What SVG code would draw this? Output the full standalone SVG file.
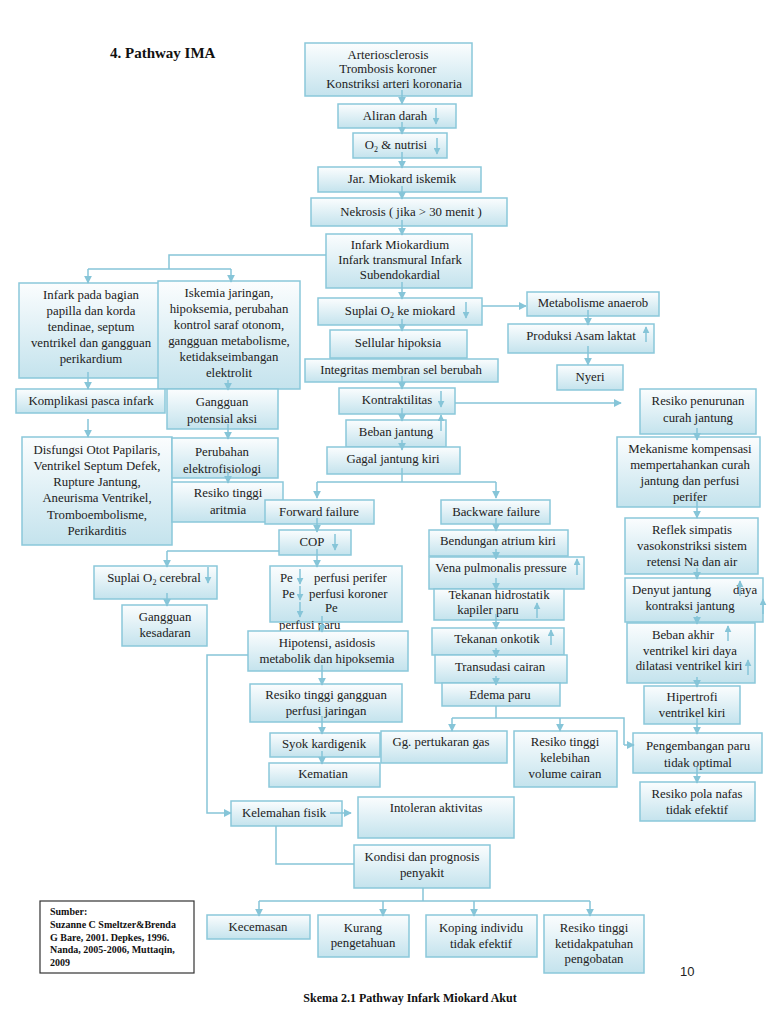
<svg xmlns="http://www.w3.org/2000/svg" width="768" height="1024" viewBox="0 0 768 1024">
<defs>
<linearGradient id="bg" x1="0" y1="0" x2="0" y2="1">
<stop offset="0" stop-color="#fbfdfe"/>
<stop offset="1" stop-color="#c4e3ed"/>
</linearGradient>
<marker id="a" viewBox="0 0 10 10" refX="9" refY="5" markerUnits="userSpaceOnUse" markerWidth="8" markerHeight="8" orient="auto">
<path d="M0,0 L10,5 L0,10 z" fill="#86c5d8"/>
</marker>
<marker id="s" viewBox="0 0 10 10" refX="9" refY="5" markerUnits="userSpaceOnUse" markerWidth="7" markerHeight="7" orient="auto">
<path d="M0,0 L10,5 L0,10 z" fill="#86c5d8"/>
</marker>
<style>
.b{fill:url(#bg);stroke:#8ac8da;stroke-width:1.5}
.t{font-family:"Liberation Serif","Times New Roman",Times,serif;font-size:12.8px;fill:#222;text-anchor:middle}
.l{font-family:"Liberation Serif","Times New Roman",Times,serif;font-size:12.8px;fill:#222}
.c{fill:none;stroke:#86c5d8;stroke-width:1.5}
.ca{fill:none;stroke:#86c5d8;stroke-width:1.5;marker-end:url(#a)}
.g{fill:none;stroke:#86c5d8;stroke-width:1.5;marker-end:url(#s)}
.sub{font-size:8px}
.h{font-family:"Liberation Serif","Times New Roman",Times,serif;font-weight:bold;fill:#111}
</style>
</defs>
<rect width="768" height="1024" fill="#fff"/>
<text class="h" x="110" y="58" font-size="15">4. Pathway IMA</text>

<g id="n1"><rect class="b" x="305" y="43" width="167" height="53"/><text class="t" x="388" y="59">Arteriosclerosis</text><text class="t" x="388" y="73">Trombosis koroner</text><text class="t" x="394" y="88">Konstriksi arteri koronaria</text></g>
<g id="n2"><rect class="b" x="338" y="104" width="118" height="24"/><text class="t" x="395" y="120">Aliran darah</text><path class="g" d="M436 108 V124"/></g>
<g id="n3"><rect class="b" x="353" y="133" width="94" height="25"/><text class="t" x="396" y="149">O<tspan class="sub" dy="3">2</tspan><tspan dy="-3"> &amp; nutrisi</tspan></text><path class="g" d="M437 138 V154"/></g>
<g id="n4"><rect class="b" x="318" y="167" width="163" height="25"/><text class="t" x="402" y="183">Jar. Miokard iskemik</text></g>
<g id="n5"><rect class="b" x="311" y="198" width="196" height="28"/><text class="t" x="411" y="216">Nekrosis ( jika &gt; 30 menit )</text></g>
<g id="n6"><rect class="b" x="326" y="234" width="146" height="54"/><text class="t" x="400" y="249">Infark Miokardium</text><text class="t" x="400" y="264">Infark transmural Infark</text><text class="t" x="400" y="279">Subendokardial</text></g>
<g id="n7"><rect class="b" x="19" y="283" width="143" height="95"/><text class="t" x="91" y="299">Infark pada bagian</text><text class="t" x="91" y="315">papilla dan korda</text><text class="t" x="91" y="331">tendinae, septum</text><text class="t" x="91" y="347">ventrikel dan gangguan</text><text class="t" x="91" y="363">perikardium</text></g>
<g id="n8"><rect class="b" x="158" y="281" width="142" height="108"/><text class="t" x="229" y="297">Iskemia jaringan,</text><text class="t" x="229" y="313">hipoksemia, perubahan</text><text class="t" x="229" y="329">kontrol saraf otonom,</text><text class="t" x="229" y="345">gangguan metabolisme,</text><text class="t" x="229" y="361">ketidakseimbangan</text><text class="t" x="229" y="377">elektrolit</text></g>
<g id="n9"><rect class="b" x="16" y="389" width="149" height="24"/><text class="t" x="91" y="405">Komplikasi pasca infark</text></g>
<g id="n10"><rect class="b" x="22" y="437" width="150" height="108"/><text class="t" x="97" y="454">Disfungsi Otot Papilaris,</text><text class="t" x="97" y="470">Ventrikel Septum Defek,</text><text class="t" x="97" y="486">Rupture Jantung,</text><text class="t" x="97" y="502">Aneurisma Ventrikel,</text><text class="t" x="97" y="519">Tromboembolisme,</text><text class="t" x="97" y="535">Perikarditis</text></g>
<g id="n11"><rect class="b" x="167" y="389" width="111" height="40"/><text class="t" x="222" y="406">Gangguan</text><text class="t" x="222" y="423">potensial aksi</text></g>
<g id="n12"><rect class="b" x="172" y="438" width="106" height="40"/><text class="t" x="222" y="456">Perubahan</text><text class="t" x="222" y="473">elektrofisiologi</text></g>
<g id="n13"><rect class="b" x="172" y="482" width="111" height="40"/><text class="t" x="228" y="497">Resiko tinggi</text><text class="t" x="228" y="514">aritmia</text></g>
<g id="n14"><rect class="b" x="318" y="298" width="164" height="27"/><text class="t" x="400" y="315">Suplai O<tspan class="sub" dy="3">2</tspan><tspan dy="-3"> ke miokard</tspan></text><path class="g" d="M466 302 V318"/></g>
<g id="n15"><rect class="b" x="527" y="292" width="132" height="24"/><text class="t" x="593" y="307">Metabolisme anaerob</text></g>
<g id="n16"><rect class="b" x="508" y="324" width="146" height="29"/><text class="t" x="581" y="340">Produksi Asam laktat</text><path class="g" d="M646 342 V327"/></g>
<g id="n17"><rect class="b" x="557" y="365" width="66" height="25"/><text class="t" x="590" y="381">Nyeri</text></g>
<g id="n18"><rect class="b" x="330" y="330" width="137" height="28"/><text class="t" x="398" y="347">Sellular hipoksia</text></g>
<g id="n19"><rect class="b" x="305" y="359" width="193" height="23"/><text class="t" x="401" y="374">Integritas membran sel berubah</text></g>
<g id="n20"><rect class="b" x="339" y="388" width="116" height="26"/><text class="t" x="397" y="404">Kontraktilitas</text><path class="g" d="M441 391 V407"/></g>
<g id="n21"><rect class="b" x="640" y="389" width="116" height="45"/><text class="t" x="698" y="405">Resiko penurunan</text><text class="t" x="698" y="422">curah jantung</text></g>
<g id="n22"><rect class="b" x="617" y="437" width="143" height="70"/><text class="t" x="690" y="453">Mekanisme kompensasi</text><text class="t" x="690" y="469">mempertahankan curah</text><text class="t" x="690" y="485">jantung dan perfusi</text><text class="t" x="690" y="501">perifer</text></g>
<g id="n23"><rect class="b" x="346" y="420" width="100" height="27"/><text class="t" x="396" y="436">Beban jantung</text><path class="g" d="M441 431 V415"/></g>
<g id="n24"><rect class="b" x="327" y="447" width="133" height="27"/><text class="t" x="393" y="463">Gagal jantung kiri</text></g>
<g id="n25"><rect class="b" x="265" y="500" width="109" height="24"/><text class="t" x="319" y="516">Forward failure</text></g>
<g id="n26"><rect class="b" x="441" y="500" width="109" height="24"/><text class="t" x="496" y="516">Backware failure</text></g>
<g id="n27"><rect class="b" x="279" y="530" width="72" height="25"/><text class="t" x="312" y="546">COP</text><path class="g" d="M335 534 V550"/></g>
<g id="n28"><rect class="b" x="94" y="566" width="123" height="33"/><text class="t" x="154" y="582">Suplai O<tspan class="sub" dy="3">2</tspan><tspan dy="-3"> cerebral</tspan></text><path class="g" d="M208 567 V583"/></g>
<g id="n29"><rect class="b" x="122" y="605" width="85" height="41"/><text class="t" x="165" y="621">Gangguan</text><text class="t" x="165" y="637">kesadaran</text></g>
<g id="n30"><rect class="b" x="270" y="566" width="132" height="56"/><text class="l" x="280" y="582">Pe</text><text class="l" x="314" y="582">perfusi perifer</text><path class="g" d="M300 569 V584"/><text class="l" x="282" y="598">Pe</text><text class="l" x="309" y="598">perfusi koroner</text><path class="g" d="M300 586 V600"/><path class="g" d="M300 602 V617"/><text class="l" x="325" y="612">Pe</text><text class="l" x="279" y="629">perfusi paru</text></g>
<g id="n31"><rect class="b" x="248" y="631" width="160" height="40"/><text class="t" x="327" y="647">Hipotensi, asidosis</text><text class="t" x="327" y="663">metabolik dan hipoksemia</text></g>
<g id="n32"><rect class="b" x="250" y="684" width="152" height="38"/><text class="t" x="326" y="699">Resiko tinggi gangguan</text><text class="t" x="326" y="715">perfusi jaringan</text></g>
<g id="n33"><rect class="b" x="270" y="733" width="110" height="24"/><text class="t" x="324" y="748">Syok kardigenik</text></g>
<g id="n34"><rect class="b" x="269" y="763" width="111" height="24"/><text class="t" x="323" y="778">Kematian</text></g>
<g id="n35"><rect class="b" x="381" y="731" width="126" height="32"/><text class="t" x="441" y="746">Gg. pertukaran gas</text></g>
<g id="n36"><rect class="b" x="231" y="801" width="111" height="25"/><text class="t" x="284" y="817">Kelemahan fisik</text></g>
<g id="n37"><rect class="b" x="358" y="797" width="156" height="41"/><text class="t" x="436" y="812">Intoleran aktivitas</text></g>
<g id="n38"><rect class="b" x="354" y="845" width="136" height="43"/><text class="t" x="422" y="861">Kondisi dan prognosis</text><text class="t" x="422" y="877">penyakit</text></g>
<g id="n39"><rect class="b" x="207" y="915" width="103" height="24"/><text class="t" x="258" y="931">Kecemasan</text></g>
<g id="n40"><rect class="b" x="318" y="915" width="91" height="42"/><text class="t" x="363" y="932">Kurang</text><text class="t" x="363" y="947">pengetahuan</text></g>
<g id="n41"><rect class="b" x="426" y="915" width="111" height="42"/><text class="t" x="481" y="932">Koping individu</text><text class="t" x="481" y="948">tidak efektif</text></g>
<g id="n42"><rect class="b" x="544" y="915" width="100" height="58"/><text class="t" x="594" y="932">Resiko tinggi</text><text class="t" x="594" y="948">ketidakpatuhan</text><text class="t" x="594" y="963">pengobatan</text></g>
<g id="n43"><rect class="b" x="625" y="518" width="133" height="56"/><text class="t" x="692" y="534">Reflek simpatis</text><text class="t" x="692" y="550">vasokonstriksi sistem</text><text class="t" x="692" y="566">retensi Na dan air</text></g>
<g id="n44"><rect class="b" x="625" y="578" width="138" height="44"/><text class="l" x="632" y="594">Denyut jantung</text><text class="l" x="733" y="594">daya</text><path class="g" d="M740 596 V581"/><text class="t" x="690" y="610">kontraksi jantung</text><path class="g" d="M763 614 V599"/></g>
<g id="n45"><rect class="b" x="627" y="623" width="128" height="60"/><text class="t" x="683" y="639">Beban akhir</text><path class="g" d="M728 641 V626"/><text class="t" x="690" y="655">ventrikel kiri daya</text><text class="t" x="689" y="670">dilatasi ventrikel kiri</text><path class="g" d="M748 675 V660"/></g>
<g id="n46"><rect class="b" x="644" y="686" width="96" height="38"/><text class="t" x="692" y="701">Hipertrofi</text><text class="t" x="692" y="717">ventrikel kiri</text></g>
<g id="n47"><rect class="b" x="633" y="733" width="129" height="40"/><text class="t" x="698" y="750">Pengembangan paru</text><text class="t" x="698" y="767">tidak optimal</text></g>
<g id="n48"><rect class="b" x="640" y="782" width="115" height="39"/><text class="t" x="697" y="798">Resiko pola nafas</text><text class="t" x="697" y="814">tidak efektif</text></g>
<g id="n49"><rect class="b" x="429" y="530" width="139" height="26"/><text class="t" x="498" y="545">Bendungan atrium kiri</text></g>
<g id="n50"><rect class="b" x="429" y="557" width="155" height="32"/><text class="t" x="501" y="572">Vena pulmonalis pressure</text><path class="g" d="M577 575 V559"/></g>
<g id="n51"><rect class="b" x="434" y="589" width="130" height="31"/><text class="t" x="499" y="599">Tekanan hidrostatik</text><text class="t" x="488" y="614">kapiler paru</text><path class="g" d="M537 618 V603"/></g>
<g id="n52"><rect class="b" x="432" y="628" width="132" height="27"/><text class="t" x="497" y="643">Tekanan onkotik</text><path class="g" d="M551 645 V630"/></g>
<g id="n53"><rect class="b" x="435" y="655" width="132" height="28"/><text class="t" x="500" y="671">Transudasi cairan</text></g>
<g id="n54"><rect class="b" x="442" y="683" width="118" height="23"/><text class="t" x="500" y="699">Edema paru</text></g>
<g id="n55"><rect class="b" x="514" y="731" width="103" height="56"/><text class="t" x="565" y="746">Resiko tinggi</text><text class="t" x="565" y="762">kelebihan</text><text class="t" x="565" y="778">volume cairan</text></g>

<g id="connectors">
<path class="ca" d="M402 90 V104"/>
<path class="ca" d="M402 122 V134"/>
<path class="ca" d="M402 152 V168"/>
<path class="ca" d="M402 186 V199"/>
<path class="ca" d="M402 220 V235"/>
<path class="c" d="M326 255 H169 V269"/>
<path class="c" d="M88 269 H231"/>
<path class="ca" d="M88 269 V283"/>
<path class="ca" d="M231 269 V282"/>
<path class="ca" d="M88 372 V389"/>
<path class="ca" d="M88 419 V437"/>
<path class="ca" d="M228 380 V390"/>
<path class="ca" d="M228 424 V439"/>
<path class="ca" d="M228 472 V483"/>
<path class="ca" d="M402 282 V299"/>
<path class="ca" d="M482 306 H526"/>
<path class="ca" d="M588 310 V325"/>
<path class="ca" d="M588 346 V365"/>
<path class="ca" d="M402 319 V331"/>
<path class="ca" d="M402 376 V389"/>
<path class="ca" d="M455 403 H621"/>
<path class="ca" d="M402 408 V421"/>
<path class="ca" d="M402 440 V450"/>
<path class="ca" d="M697 428 V440"/>
<path class="c" d="M402 468 V482 M317 482 H496"/>
<path class="ca" d="M317 482 V498"/>
<path class="ca" d="M496 482 V498"/>
<path class="ca" d="M317 518 V532"/>
<path class="ca" d="M317 549 V567"/>
<path class="c" d="M279 551 H167"/>
<path class="ca" d="M167 551 V567"/>
<path class="ca" d="M167 593 V606"/>
<path class="ca" d="M322 616 V632"/>
<path class="ca" d="M322 665 V685"/>
<path class="ca" d="M322 716 V734"/>
<path class="ca" d="M322 751 V764"/>
<path class="ca" d="M248 655 H207 V813 H231"/>
<path class="ca" d="M330 813 H351"/>
<path class="c" d="M276 826 V864 H354"/>
<path class="c" d="M423 888 V901 M259 901 H590"/>
<path class="ca" d="M259 901 V916"/>
<path class="ca" d="M383 901 V916"/>
<path class="ca" d="M474 901 V916"/>
<path class="ca" d="M590 901 V916"/>
<path class="ca" d="M697 501 V518"/>
<path class="ca" d="M697 568 V579"/>
<path class="ca" d="M697 616 V624"/>
<path class="ca" d="M697 677 V687"/>
<path class="ca" d="M697 718 V734"/>
<path class="ca" d="M697 767 V783"/>
<path class="ca" d="M496 518 V531"/>
<path class="ca" d="M496 549 V559"/>
<path class="ca" d="M496 578 V590"/>
<path class="ca" d="M496 614 V629"/>
<path class="ca" d="M496 648 V657"/>
<path class="ca" d="M496 676 V685"/>
<path class="c" d="M496 706 V718 M452 718 H624 V745"/>
<path class="ca" d="M624 745 H634"/>
<path class="ca" d="M452 718 V731"/>
<path class="ca" d="M560 718 V731"/>
</g>

<g id="source">
<rect x="40" y="901" width="154" height="72" fill="#fff" stroke="#333" stroke-width="1.2"/>
<text class="h" x="50" y="915" font-size="10">Sumber:</text>
<text class="h" x="50" y="928" font-size="10">Suzanne C Smeltzer&amp;Brenda</text>
<text class="h" x="50" y="941" font-size="10">G Bare, 2001. Depkes, 1996.</text>
<text class="h" x="50" y="953" font-size="10">Nanda, 2005-2006, Muttaqin,</text>
<text class="h" x="50" y="966" font-size="10">2009</text>
</g>
<text x="680" y="976" font-family="Liberation Sans, sans-serif" font-size="13" fill="#222">10</text>
<text class="h" x="410" y="1002" font-size="12" text-anchor="middle">Skema 2.1 Pathway Infark Miokard Akut</text>
</svg>
